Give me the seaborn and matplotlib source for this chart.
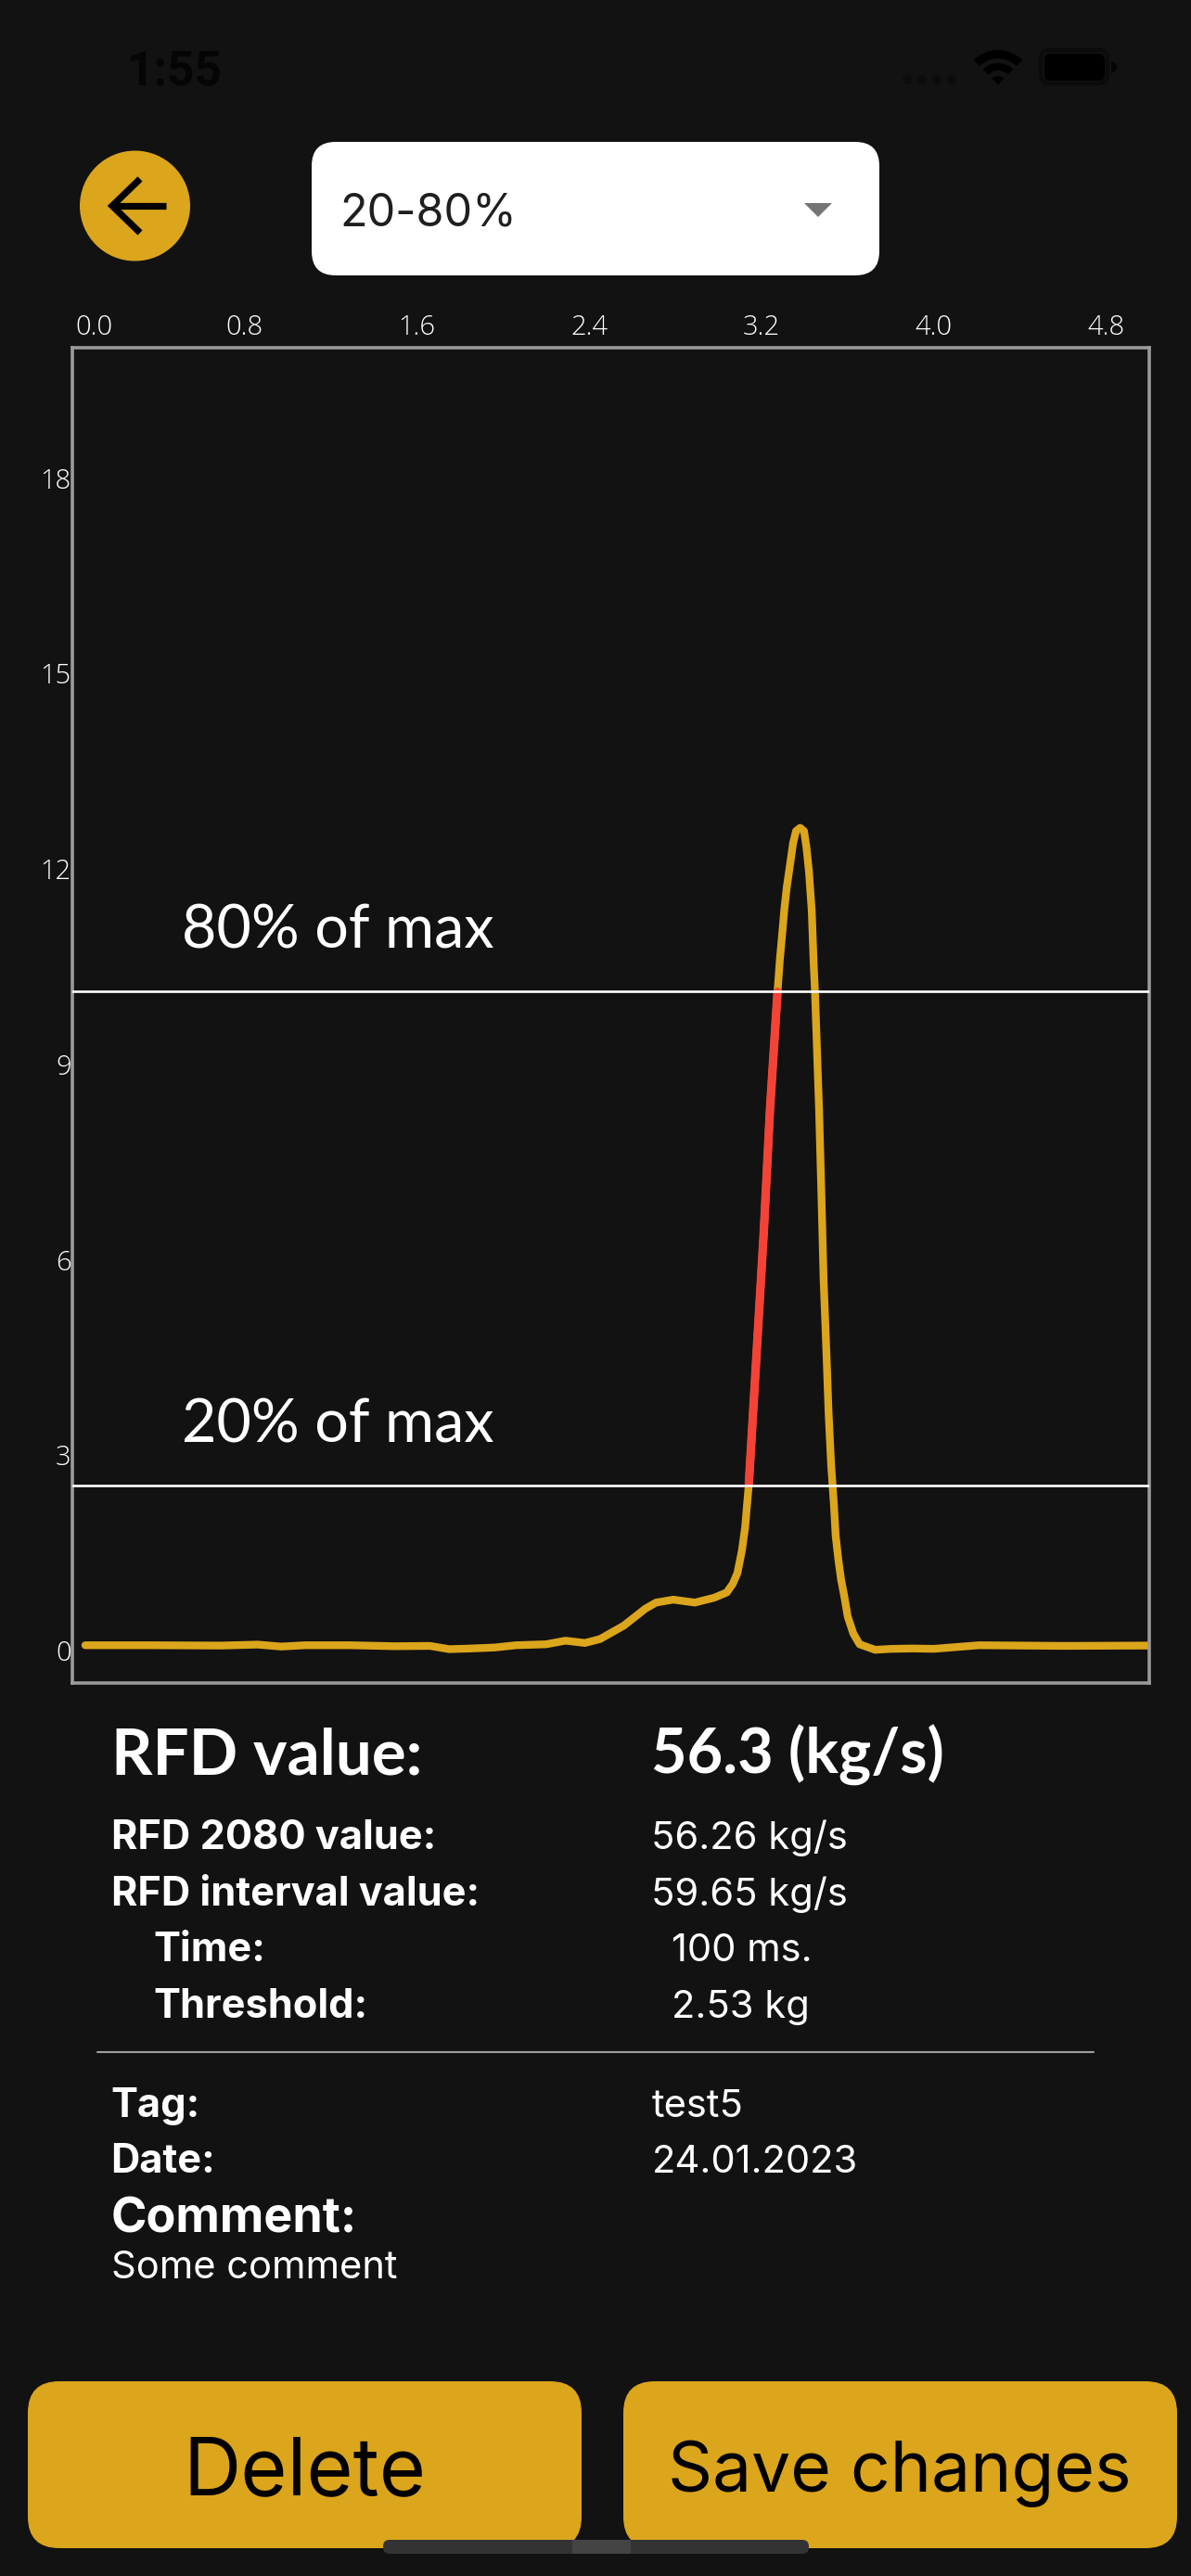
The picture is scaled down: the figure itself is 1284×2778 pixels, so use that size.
import matplotlib
matplotlib.use('Agg')
import pandas as pd
import seaborn as sns
from matplotlib import pyplot as plt
from matplotlib.patches import Circle, FancyBboxPatch, Polygon, Rectangle, Wedge
from matplotlib.transforms import ScaledTranslation

# force curve (time in s, force in kg)
time_s = [0.06, 0.37, 0.69, 0.86, 0.97, 1.08, 1.29, 1.50, 1.66, 1.75, 1.85, 1.96, 2.06, 2.20,
          2.29, 2.38, 2.45, 2.56, 2.66, 2.71, 2.79, 2.89, 2.98, 3.038, 3.066, 3.088, 3.109, 3.124,
          3.131, 3.141, 3.175, 3.21, 3.239, 3.274, 3.285, 3.296, 3.306, 3.317, 3.332, 3.346, 3.36, 3.379,
          3.397, 3.408, 3.42, 3.433, 3.442, 3.448, 3.467, 3.478, 3.488, 3.501, 3.511, 3.523, 3.536, 3.544,
          3.557, 3.569, 3.583, 3.60, 3.626, 3.655, 3.727, 3.80, 3.90,
          4.00, 4.21, 4.60, 4.99]
force_kg = [0.08, 0.08, 0.075, 0.09, 0.06, 0.08, 0.08, 0.065, 0.07, 0.02, 0.03, 0.045, 0.08, 0.095,
            0.15, 0.115, 0.175, 0.38, 0.64, 0.735, 0.78, 0.735, 0.81, 0.89, 1.02, 1.19, 1.54, 1.90,
            2.18, 2.56, 4.46, 6.41, 8.3, 10.11, 10.61, 11.01, 11.39, 11.72, 12.06, 12.39, 12.58, 12.63,
            12.58, 12.34, 11.96, 11.35, 10.54, 10.11, 8.3, 6.98, 5.69, 4.58, 3.66, 2.85, 2.23, 1.76,
            1.38, 1.09, 0.85, 0.52, 0.26, 0.095, 0.01, 0.024, 0.03,
            0.025, 0.08, 0.07, 0.075]

# the part between the 20% and 80% lines
rise_time = [3.141, 3.175, 3.21, 3.239, 3.274]
rise_force = [2.56, 4.46, 6.41, 8.3, 10.11]

threshold_values = [2.53, 10.12]
threshold_labels = ['20% of max', '80% of max']
x_ticks = [0.0, 0.8, 1.6, 2.4, 3.2, 4.0, 4.8]
y_ticks = [0, 3, 6, 9, 12, 15, 18]

summary_labels = ['RFD 2080 value:', 'RFD interval value:', 'Time:', 'Threshold:']
summary_values = ['56.26 kg/s', '59.65 kg/s', '100 ms.', '2.53 kg']
summary_rows = [1994, 2055, 2115, 2176]

BG = '#121212'
GOLD = '#DBA51C'
RED = '#F44336'
W, H = 1284, 2778

sns.set_theme(style='dark', rc={'figure.facecolor': BG, 'axes.facecolor': BG, 'savefig.facecolor': BG})
plt.rcParams['font.family'] = ['Inter', 'DejaVu Sans']

fig = plt.figure(figsize=(W / 100, H / 100), dpi=100)

# Chart
ax = fig.add_axes([78 / W, 1 - 1815 / H, (1239 - 78) / W, (1815 - 375) / H])
df = pd.DataFrame({'time': time_s, 'force': force_kg})
rise = pd.DataFrame({'time': rise_time, 'force': rise_force})
sns.lineplot(data=df, x='time', y='force', color=GOLD, linewidth=6, estimator=None, ax=ax)
sns.lineplot(data=rise, x='time', y='force', color=RED, linewidth=6.6, estimator=None, ax=ax)
for value, label in zip(threshold_values, threshold_labels):
    ax.axhline(value, color='white', linewidth=1.9, zorder=5)
    ax.text(0.51, value + 0.66, label, color='white', fontsize=46.5, family='Lato', va='baseline')

ax.set_xlim(0, 5)
ax.set_ylim(-0.5, 20)
ax.set_xlabel('')
ax.set_ylabel('')
ax.grid(False)
ax.xaxis.tick_top()
ax.set_xticks(x_ticks)
ax.set_xticklabels([f'{t:.1f}' for t in x_ticks], color='white', fontsize=21, family='Open Sans', fontweight='light')
ax.set_yticks(y_ticks)
ax.set_yticklabels([str(t) for t in y_ticks], color='white', fontsize=21, family='Open Sans', fontweight='light')
ax.tick_params(axis='x', length=0, pad=5)
ax.tick_params(axis='y', length=0, pad=1)
first_label = ax.get_xticklabels()[0]
first_label.set_ha('left')
first_label.set_transform(first_label.get_transform() + ScaledTranslation(0.035, 0, fig.dpi_scale_trans))
for spine in ax.spines.values():
    spine.set_color('#9a9a9a')
    spine.set_linewidth(2.6)

# Everything around the chart, in screen pixels
ui = fig.add_axes([0, 0, 1, 1], zorder=10)
ui.set_xlim(0, W)
ui.set_ylim(H, 0)
ui.axis('off')
ui.patch.set_alpha(0)


def round_box(x0, y0, x1, y1, r, color):
    ui.add_patch(FancyBboxPatch((x0 + r, y0 + r), x1 - x0 - 2 * r, y1 - y0 - 2 * r,
                                boxstyle=f'round,pad={r},rounding_size={r}',
                                facecolor=color, edgecolor='none'))


# status bar
ui.text(137, 92, '1:55', color='#050505', fontsize=37, family='Roboto', fontweight='bold', va='baseline')
for dot_x in [978, 994, 1010, 1026]:
    ui.add_patch(Circle((dot_x, 86), 5, facecolor='#0c0c0c', edgecolor='none'))
for r_out, r_in in [(37, 28), (23, 15), (9, 0)]:
    ui.add_patch(Wedge((1076, 91), r_out, 225, 315, width=r_out - r_in, facecolor='black', edgecolor='none'))
ui.add_patch(FancyBboxPatch((1130, 62), 56, 20, boxstyle='round,pad=8,rounding_size=9',
                            facecolor='none', edgecolor='#0b0b0b', linewidth=3))
round_box(1126, 58, 1191, 87, 6, 'black')
ui.add_patch(Wedge((1198, 72.5), 6, -90, 90, facecolor='#050505', edgecolor='none'))

# back button
ui.add_patch(Circle((145.5, 222), 59.5, facecolor=GOLD, edgecolor='none'))
ui.plot([151, 121, 151], [193, 222, 251], color='black', linewidth=5.2, solid_joinstyle='miter', solid_capstyle='butt')
ui.plot([121, 179], [222, 222], color='black', linewidth=5.2, solid_capstyle='butt')

# dropdown
round_box(336, 153, 948, 297, 26, 'white')
ui.text(366, 243, '20-80%', color='#1f1f1f', fontsize=35, va='baseline')
ui.add_patch(Polygon([(867, 219), (897, 219), (882, 234)], closed=True, facecolor='#757575', edgecolor='none'))

# summary
ui.text(119.5, 1913, 'RFD value:', color='white', fontsize=49.8, family='Lato', fontweight='bold', va='baseline')
ui.text(702.5, 1913, '56.3 (kg/s)', color='white', fontsize=48, family='Lato', fontweight='bold', va='baseline')
for i, (label, value, row) in enumerate(zip(summary_labels, summary_values, summary_rows)):
    indent = 46 if i >= 2 else 0
    ui.text(119.5 + indent, row, label, color='white', fontsize=31.2, fontweight='bold', va='baseline')
    ui.text(702.5 + (22 if i >= 2 else 0), row, value, color='white', fontsize=30, va='baseline')
ui.plot([105, 1179], [2213, 2213], color='#9e9e9e', linewidth=1.5)

ui.text(119.5, 2283, 'Tag:', color='white', fontsize=31.2, fontweight='bold', va='baseline')
ui.text(702.5, 2283, 'test5', color='white', fontsize=30, va='baseline')
ui.text(119.5, 2343, 'Date:', color='white', fontsize=31.2, fontweight='bold', va='baseline')
ui.text(702.5, 2343, '24.01.2023', color='white', fontsize=30, va='baseline')
ui.text(119.5, 2407, 'Comment:', color='white', fontsize=37.5, fontweight='bold', va='baseline')
ui.text(119.5, 2457, 'Some comment', color='white', fontsize=30, va='baseline')

# buttons
round_box(30, 2568, 627, 2748, 34, GOLD)
round_box(672, 2568, 1269, 2748, 34, GOLD)
ui.text(328, 2690, 'Delete', color='black', fontsize=62, ha='center', va='baseline')
ui.text(970, 2687, 'Save changes', color='black', fontsize=54, ha='center', va='baseline')

# home indicator
round_box(413, 2739, 872, 2754, 7, '#333333')
ui.add_patch(Rectangle((617, 2739), 63, 15, facecolor='#444444', edgecolor='none'))

plt.savefig('out.png', dpi=100)
